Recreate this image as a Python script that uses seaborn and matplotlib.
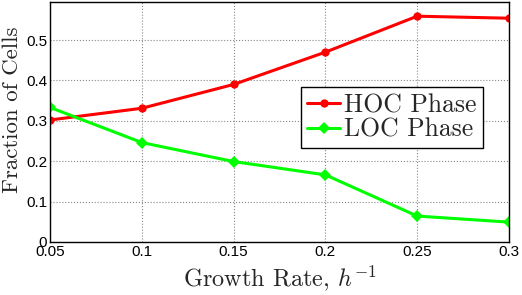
import matplotlib
matplotlib.use("Agg")
import matplotlib.pyplot as plt
import seaborn as sns
import pandas as pd

growth_rate = [0.05, 0.1, 0.15, 0.2, 0.25, 0.3]
hoc_phase = [0.302, 0.331, 0.390, 0.470, 0.559, 0.554]
loc_phase = [0.333, 0.246, 0.199, 0.166, 0.064, 0.049]
x_ticks = [0.05, 0.1, 0.15, 0.2, 0.25, 0.3]
x_tick_labels = ["0.05", "0.1", "0.15", "0.2", "0.25", "0.3"]
y_ticks = [0, 0.1, 0.2, 0.3, 0.4, 0.5]
y_tick_labels = ["0", "0.1", "0.2", "0.3", "0.4", "0.5"]

df = pd.DataFrame({
    "rate": growth_rate * 2,
    "frac": hoc_phase + loc_phase,
    "phase": ["HOC Phase"] * 6 + ["LOC Phase"] * 6,
})

sns.set_style("white")
plt.rcParams["mathtext.fontset"] = "cm"
plt.rcParams["font.family"] = ["Liberation Sans", "DejaVu Sans"]

fig, ax = plt.subplots(figsize=(5.22, 2.95), dpi=100)
fig.subplots_adjust(left=0.096, right=0.975, bottom=0.18, top=0.993)

sns.lineplot(data=df, x="rate", y="frac", hue="phase", style="phase",
             palette={"HOC Phase": "#ff0000", "LOC Phase": "#00ff00"},
             markers={"HOC Phase": "o", "LOC Phase": "D"}, dashes=False,
             linewidth=2.2, markersize=6, markeredgewidth=0, ax=ax)

ax.set_xlim(0.05, 0.3)
ax.set_ylim(0, 0.594)
ax.set_xticks(x_ticks)
ax.set_xticklabels(x_tick_labels, fontsize=11)
ax.set_yticks(y_ticks)
ax.set_yticklabels(y_tick_labels, fontsize=11)
ax.tick_params(direction="in", length=3, pad=2, colors="black")
ax.grid(True, linestyle=":", color="#888888", linewidth=0.8)
for s in ax.spines.values():
    s.set_color("black")
    s.set_linewidth(1.0)

ax.set_xlabel("Growth Rate, $h^{-1}$", family="cmr10", fontsize=17.5, labelpad=3)
ax.set_ylabel("Fraction of Cells", family="cmr10", fontsize=16.5)
ax.yaxis.set_label_coords(-0.062, 0.55)

leg = ax.legend(loc="upper left", bbox_to_anchor=(0.546, 0.645), frameon=True,
                fancybox=False, edgecolor="black", framealpha=1,
                prop={"family": "cmr10", "size": 18.5}, handlelength=1.3,
                handletextpad=0.15, borderpad=0.25, labelspacing=0.02,
                borderaxespad=0)
leg.get_frame().set_linewidth(1.0)

fig.savefig("out.png", dpi=100)
